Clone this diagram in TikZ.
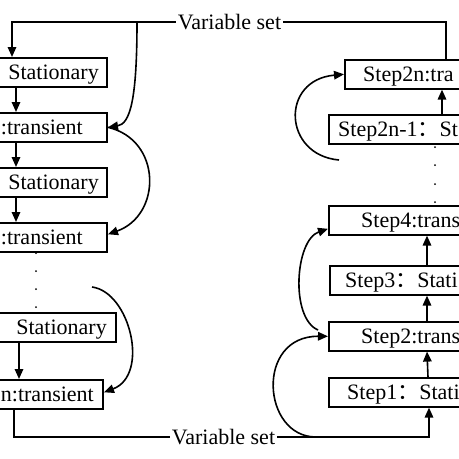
\documentclass[tikz,border=0pt]{standalone}
\usepackage{fontspec}
\setmainfont{Liberation Serif}
\newfontfamily\cjkfnt{Noto Sans CJK SC}
\usetikzlibrary{arrows.meta}
\newcommand{\fwc}{{\cjkfnt ：}}
\begin{document}
\begin{tikzpicture}[x=1pt,y=-1pt,
  lw/.style={line width=1.6pt},
  box/.style={draw, lw, minimum height=29pt, minimum width=185pt, inner sep=0pt},
  txt/.style={inner sep=0pt, font=\fontsize{22pt}{26pt}\selectfont},
  lbl/.style={inner xsep=2pt, inner ysep=0pt, font=\fontsize{22pt}{26pt}\selectfont},
  arr/.style={lw, -{Triangle[length=10pt,width=8.5pt]}},
  ln/.style={lw}]
\useasboundingbox (0,0) rectangle (459,459);
\clip (0,0) rectangle (459,459);
\fill[white] (0,0) rectangle (459,459);
% left column boxes
\node[box, anchor=north east] (L1) at (108,57) {};
\node[box, anchor=north east] (L2) at (108,112) {};
\node[box, anchor=north east] (L3) at (108,167) {};
\node[box, anchor=north east] (L4) at (108,222) {};
\node[box, anchor=north east] (L5) at (117,312) {};
\node[box, anchor=north east] (L6) at (104,379) {};
\node[txt, anchor=base east] at ([xshift=-9pt,yshift=-7pt]L1.east) {Stationary};
\node[txt, anchor=base east] at ([xshift=-25pt,yshift=-7pt]L2.east) {:transient};
\node[txt, anchor=base east] at ([xshift=-9pt,yshift=-7pt]L3.east) {Stationary};
\node[txt, anchor=base east] at ([xshift=-25pt,yshift=-7pt]L4.east) {:transient};
\node[txt, anchor=base east] at ([xshift=-10pt,yshift=-7pt]L5.east) {Stationary};
\node[txt, anchor=base east] at ([xshift=-10pt,yshift=-7pt]L6.east) {n:transient};
% right column boxes
\node[box, anchor=north west] (R2n) at (344,59) {};
\node[box, anchor=north west] (R2n1) at (328,114) {};
\node[box, anchor=north west] (R4) at (328,205) {};
\node[box, anchor=north west] (R3) at (329,265) {};
\node[box, anchor=north west] (R2) at (328,321) {};
\node[box, anchor=north west] (R1) at (328,377) {};
\node[txt, anchor=base west] at ([xshift=19pt,yshift=-7pt]R2n.west) {Step2n:tra};
\node[txt, anchor=base west] at ([xshift=10pt,yshift=-7pt]R2n1.west) {Step2n-1\fwc St};
\node[txt, anchor=base west] at ([xshift=33pt,yshift=-7pt]R4.west) {Step4:trans};
\node[txt, anchor=base west] at ([xshift=16pt,yshift=-7pt]R3.west) {Step3\fwc Stati};
\node[txt, anchor=base west] at ([xshift=33pt,yshift=-7pt]R2.west) {Step2:trans};
\node[txt, anchor=base west] at ([xshift=19pt,yshift=-7pt]R1.west) {Step1\fwc Stati};
% labels
\node[lbl] (vtop) at (229.5,22) {Variable set};
\node[lbl] (vbot) at (223.5,437) {Variable set};
% top connections
\draw[arr] (vtop.west) -| ([xshift=-96pt]L1.north east);
\draw[ln] (vtop.east) -| ([xshift=102pt]R2n.north west);
\coordinate (tj) at (137,22);
\draw[arr] (tj) .. controls (137,100) and (130,124) .. (L2.east);
% left column
\draw[arr] ([xshift=-92pt]L1.south east) -- ([xshift=-92pt]L2.north east);
\draw[arr] ([xshift=-92pt]L2.south east) -- ([xshift=-92pt]L3.north east);
\draw[arr] ([xshift=-92pt]L3.south east) -- ([xshift=-92pt]L4.north east);
\draw[arr] ([xshift=-98pt]L5.south east) -- ([xshift=-85pt]L6.north east);
\draw[arr] (L2.east) .. controls (162,140) and (162,215) .. ([yshift=3pt]L4.east);
\coordinate (c1) at (92,287);
\draw[arr] (c1) .. controls (130,292) and (150,375) .. ([yshift=2pt]L6.east);
\foreach \yy in {253,271,289,307} \fill (36,\yy) circle (1pt);
% bottom connections
\draw[ln] ([xshift=-90pt]L6.south east) |- (vbot.west);
\draw[arr] (vbot.east) -| ([xshift=101pt]R1.south west);
\coordinate (bj) at (316,437);
\draw[arr] (bj) .. controls (262,437) and (255,336) .. (R2.west);
% right column
\draw[arr] ([xshift=100pt]R1.north west) -- ([xshift=99pt]R2.south west);
\draw[arr] ([xshift=99pt]R2.north west) -- ([xshift=98pt]R3.south west);
\draw[arr] ([xshift=98pt]R3.north west) -- ([xshift=99pt]R4.south west);
\draw[arr] ([xshift=114pt]R2n1.north west) -- ([xshift=98pt]R2n.south west);
\coordinate (c2) at (318,330);
\draw[arr] (c2) .. controls (290,318) and (295,240) .. ([yshift=-8.5pt]R4.west);
\coordinate (c3) at (339,160);
\draw[arr] (c3) .. controls (283,155) and (280,80) .. (R2n.west);
\foreach \yy in {147,165,184,202} \fill (435,\yy) circle (1pt);
\end{tikzpicture}
\end{document}
